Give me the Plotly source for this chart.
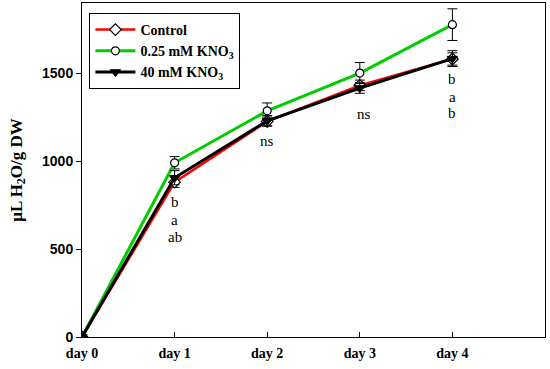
import plotly.graph_objects as go

days = [0, 1, 2, 3, 4]
tick_labels = ["day 0", "day 1", "day 2", "day 3", "day 4"]

control = [0, 880, 1225, 1430, 1580]
control_err = [0, 30, 25, 30, 35]
kno3_025 = [0, 990, 1285, 1500, 1775]
kno3_025_err = [0, 35, 45, 60, 90]
kno3_40 = [0, 905, 1228, 1415, 1582]
kno3_40_err = [0, 40, 30, 30, 45]

letters_day1 = ["b", "a", "ab"]
letters_day1_y = [767, 665, 568]
letters_day4 = ["b", "a", "b"]
letters_day4_y = [1466, 1364, 1273]
ns_labels = [(2, 1114), (3.05, 1267)]

serif = "Liberation Serif"

fig = go.Figure()

fig.add_trace(go.Scatter(
    x=days, y=control, name="Control", mode="lines+markers",
    line=dict(color="#ff0000", width=2.5),
    marker=dict(symbol="diamond", size=9, color="white", line=dict(color="black", width=1.2)),
    error_y=dict(type="data", array=control_err, color="black", thickness=1, width=5),
))
fig.add_trace(go.Scatter(
    x=days, y=kno3_025, name="0.25 mM KNO<sub>3</sub>", mode="lines+markers",
    line=dict(color="#00cc00", width=3),
    marker=dict(symbol="circle", size=8, color="white", line=dict(color="black", width=1.2)),
    error_y=dict(type="data", array=kno3_025_err, color="black", thickness=1, width=5),
))
fig.add_trace(go.Scatter(
    x=days, y=kno3_40, name="40 mM KNO<sub>3</sub>", mode="lines+markers",
    line=dict(color="black", width=3),
    marker=dict(symbol="triangle-down", size=9, color="black", line=dict(color="black", width=1)),
    error_y=dict(type="data", array=kno3_40_err, color="black", thickness=1, width=5),
))

for t, yv in zip(letters_day1, letters_day1_y):
    fig.add_annotation(x=1, y=yv, text=t, showarrow=False,
                       font=dict(family=serif, size=15, color="black"))
for t, yv in zip(letters_day4, letters_day4_y):
    fig.add_annotation(x=4, y=yv, text=t, showarrow=False,
                       font=dict(family=serif, size=15, color="black"))
for xv, yv in ns_labels:
    fig.add_annotation(x=xv, y=yv, text="ns", showarrow=False,
                       font=dict(family=serif, size=15, color="black"))

fig.update_layout(
    width=550, height=369,
    margin=dict(l=82, r=5, t=3, b=32),
    paper_bgcolor="white", plot_bgcolor="white",
    showlegend=True,
    legend=dict(
        x=0.016, y=0.97, xanchor="left", yanchor="top",
        bordercolor="black", borderwidth=1, bgcolor="white",
        font=dict(family=serif, size=14, color="black", weight="bold"),
        tracegroupgap=0, itemwidth=40,
    ),
    xaxis=dict(
        range=[0, 5], tickmode="array", tickvals=days, ticktext=tick_labels,
        ticks="inside", ticklen=5, tickcolor="black",
        showline=True, linecolor="black", linewidth=1, mirror=True,
        showgrid=False, zeroline=False, automargin=False,
        ticklabelstandoff=3,
        tickfont=dict(family=serif, size=14, color="black", weight="bold"),
    ),
    yaxis=dict(
        range=[0, 1898], tickvals=[0, 500, 1000, 1500],
        ticks="outside", ticklen=5, tickcolor="black",
        showline=True, linecolor="black", linewidth=1, mirror=True,
        showgrid=False, zeroline=False, automargin=False,
        tickfont=dict(family="Liberation Sans", size=14, color="black", weight="bold"),
        title=dict(text="µL H<sub>2</sub>O/g DW",
                   font=dict(family=serif, size=17, color="black", weight="bold")),
    ),
)

fig.write_html("out.html", config={"displayModeBar": False},
               post_script="document.body.style.margin='0';")
